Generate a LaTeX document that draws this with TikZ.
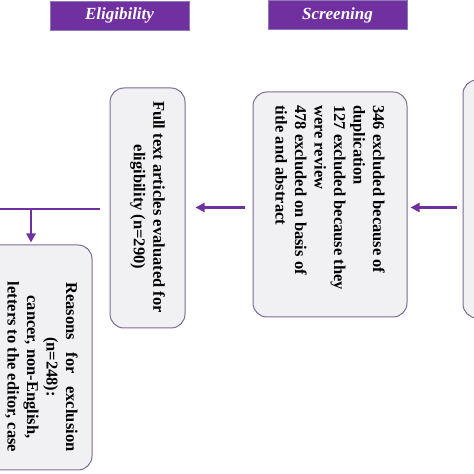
\documentclass[tikz,border=0pt]{standalone}
\usepackage{fontspec}
\setmainfont{Liberation Serif}
\usetikzlibrary{arrows.meta}
\definecolor{hdr}{HTML}{7030A0}
\definecolor{hdrline}{HTML}{8C7AB5}
\definecolor{boxline}{HTML}{7D6B93}
\definecolor{boxfill}{HTML}{F1F0F3}
\definecolor{arrowc}{HTML}{7030A0}
\begin{document}
\begin{tikzpicture}[x=1pt,y=1pt,
 hdrbox/.style={fill=hdr,draw=hdrline,line width=0.8pt,inner sep=0pt},
 hdrtext/.style={text=white,font=\fontsize{17}{20}\selectfont\bfseries\itshape,inner sep=0pt},
 flowbox/.style={draw=boxline,fill=boxfill,line width=1pt,rounded corners=14pt,inner sep=0pt},
 boxtext/.style={font=\fontsize{16.5}{19.5}\selectfont\bfseries,rotate=-90,inner sep=0pt},
 arr/.style={draw=arrowc,line width=2.2pt,-{Triangle[length=9pt,width=9pt]}},
 conn/.style={draw=arrowc,line width=2.2pt}]
\useasboundingbox (0,0) rectangle (474,474);
\fill[white] (0,0) rectangle (474,474);
\begin{scope}
\clip (0,0) rectangle (474,474);
% headers
\node[hdrbox,minimum width=139pt,minimum height=29pt] (elig) at (119.5,458.5) {};
\node[hdrtext] (eligt) at (elig.center) {Eligibility};
\node[hdrbox,minimum width=139pt,minimum height=29pt] (scr) at (337.5,459) {};
\node[hdrtext] (scrt) at (scr.center) {Screening};
% boxes
\node[flowbox,minimum width=75pt,minimum height=240pt] (full) at (147.5,266) {};
\node[flowbox,minimum width=154pt,minimum height=225pt] (screen) at (330,269.5) {};
\node[flowbox,minimum width=137pt,minimum height=238pt] (right) at (531.5,275) {};
\node[flowbox,minimum width=172pt,minimum height=225pt] (bottom) at (6,116.5) {};
% texts
\node[boxtext,align=center] (fulltxt) at (147.5,267) {Full text articles evaluated for\\eligibility (n=290)};
\node[boxtext,align=left,anchor=west] (screentxt) at (330,369) {346 excluded because of\\duplication\\127 excluded because they\\were review\\478 excluded on basis of\\title and abstract};
\node[boxtext,align=center] (bottomtxt) at (41.5,107) {\makebox[169pt][s]{Reasons for exclusion}\\(n=248):\\cancer, non-English,\\letters to the editor, case};
% connectors
\coordinate (a1) at ([xshift=-6pt,yshift=-8.5pt]right.west);
\draw[arr] (a1) -- ([xshift=3pt]a1 -| screen.east);
\coordinate (a2) at ([xshift=-8pt]a1 -| screen.west);
\draw[arr] (a2) -- ([xshift=10pt]a2 -| full.east);
\coordinate (a3) at ([xshift=-10pt,yshift=-1.5pt]a1 -| full.west);
\coordinate (lend) at (-3,265);
\draw[conn] (a3) -- (lend);
\coordinate (j) at (31,265);
\draw[arr] (j) -- ([yshift=2pt]j |- bottom.north);
\end{scope}
\end{tikzpicture}
\end{document}
